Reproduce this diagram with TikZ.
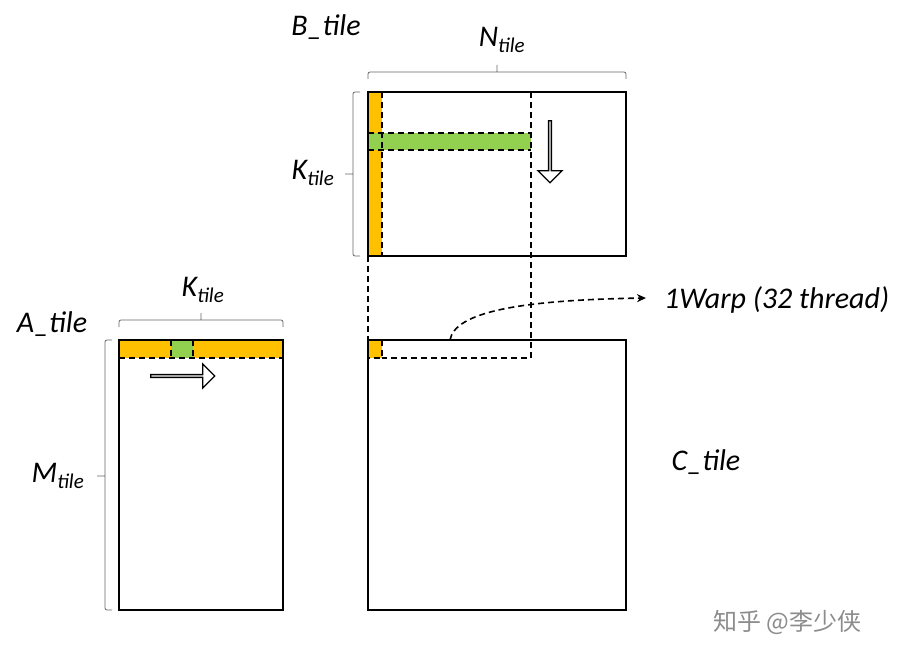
\documentclass[tikz,border=0pt]{standalone}
\usepackage{fontspec}
\setmainfont{Carlito}
\newfontfamily\cjk{Noto Sans CJK SC}
\usetikzlibrary{arrows.meta,shapes.arrows}
\begin{document}
\begin{tikzpicture}[x=1pt,y=-1pt,
  box/.style={draw=black,line width=1.8pt},
  dsh/.style={draw=black,line width=1.6pt,dash pattern=on 6pt off 4pt},
  lab/.style={font=\itshape\fontsize{30}{32}\selectfont,inner sep=0pt},
  brk/.style={draw=gray!80!black,line width=0.8pt,rounded corners=2pt},
  hollow/.style={single arrow,draw=black,fill=white,line width=1.3pt,single arrow head extend=5pt,inner sep=0pt}]
\useasboundingbox (0,0) rectangle (908,658);
\definecolor{og}{HTML}{FFC000}\definecolor{gr}{HTML}{92D050}
% B tile
\fill[og] (368,92) rectangle (382,256);
\fill[gr] (368,133) rectangle (531,150);
\draw[box] (368,92) rectangle (626,256);
\draw[dsh] (382,92) -- (382,256);
\draw[dsh] (368,133) -- (531,133) (368,150) -- (531,150);
\draw[dsh] (531,92) -- (531,358) -- (382,358);
\draw[dsh] (368,256) -- (368,340);
\node[hollow,shape border rotate=270,minimum height=62pt,minimum width=24pt] (dn) at (550,151) {};
% C tile
\fill[og] (368,340) rectangle (382,358);
\draw[box] (368,340) rectangle (626,610);
\draw[dsh] (382,340) -- (382,358) -- (368,358);
% A tile
\fill[og] (119,340) rectangle (283,358);
\fill[gr] (171,340) rectangle (193,358);
\draw[box] (119,340) rectangle (283,610);
\draw[dsh] (119,340) -- (283,340) (119,358) -- (283,358) (171,340) -- (171,358) (193,340) -- (193,358);
\node[hollow,minimum height=64pt,minimum width=24pt] (rt) at (182,376) {};
% brackets
\draw[brk] (368,79) -- (368,72) -- (626,72) -- (626,79) (497,72) -- (497,65);
\draw[brk] (119,327) -- (119,320) -- (283,320) -- (283,327) (201,320) -- (201,313);
\draw[brk] (360,92) -- (353,92) -- (353,256) -- (360,256) (353,174) -- (345,174);
\draw[brk] (112,340) -- (105,340) -- (105,610) -- (112,610) (105,476) -- (97,476);
% labels
\node[lab] (bt) at (326,27) {B\_tile};
\node[lab] (at) at (52,324) {A\_tile};
\node[lab] (ct) at (706,462) {C\_tile};
\node[lab] (nt) at (502,40) {N\textsubscript{tile}};
\node[lab] (kb) at (313,173) {K\textsubscript{tile}};
\node[lab] (ka) at (203,290) {K\textsubscript{tile}};
\node[lab] (mt) at (58,476) {M\textsubscript{tile}};
\node[lab,anchor=west] (warp) at (664,300) {1Warp (32 thread)};
\coordinate (ws) at (450,340);
\coordinate (we) at (646,298);
\draw[dsh,-{Stealth[length=9pt,width=8pt]}] (ws) .. controls (455,312) and (520,300) .. (we);
\node[font=\cjk\fontsize{24}{26}\selectfont,text=gray!90,anchor=west] (wm) at (710,622) {知乎 @李少侠};
\end{tikzpicture}
\end{document}
